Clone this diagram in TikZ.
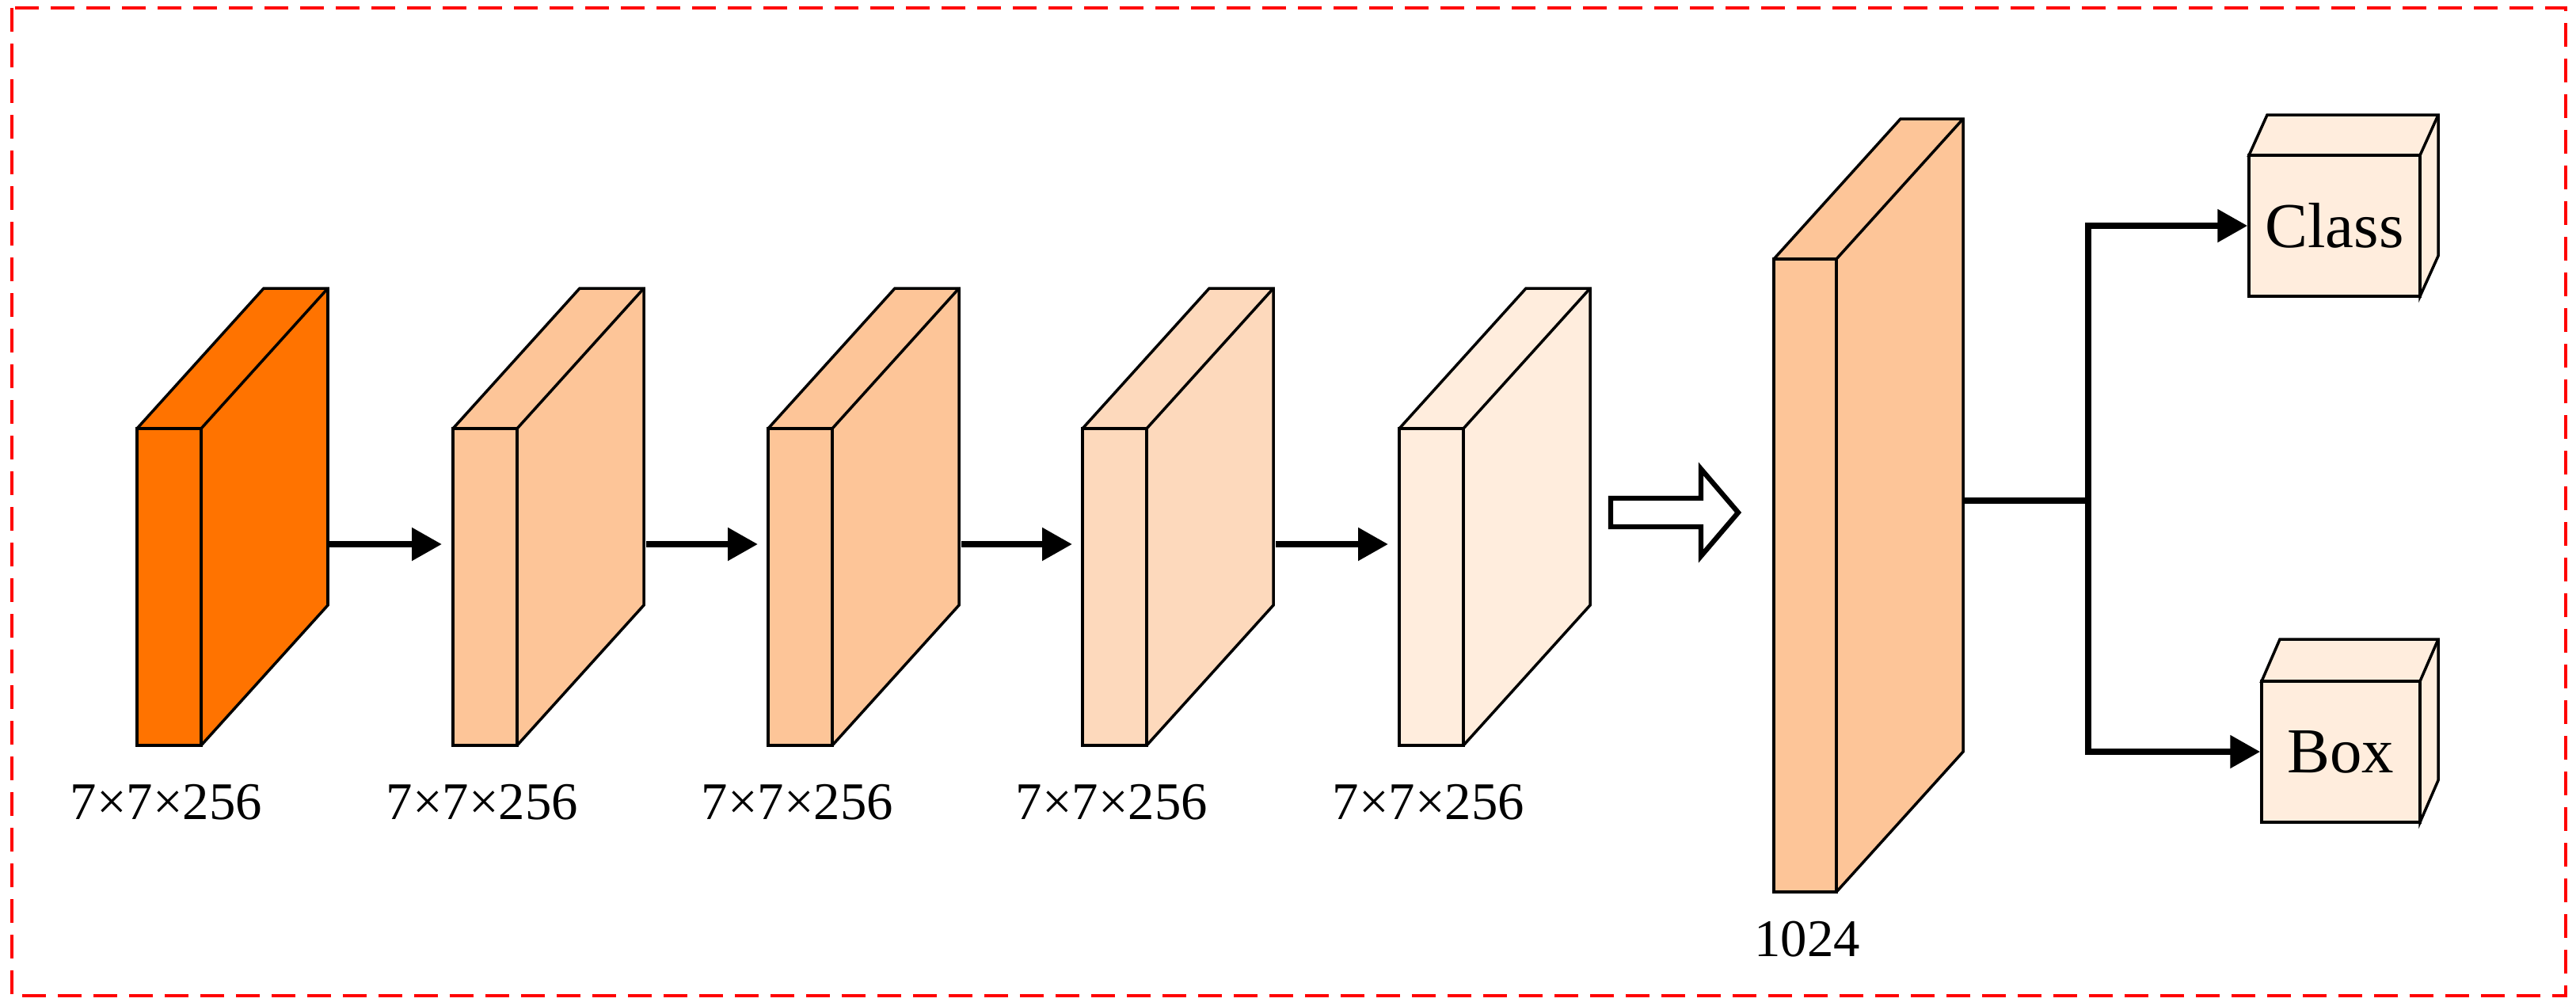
\documentclass[tikz,border=0pt]{standalone}
\usepackage{fontspec}
\setmainfont{Liberation Serif}
\usetikzlibrary{arrows.meta}
\definecolor{c1}{HTML}{FF7300}
\definecolor{c2}{HTML}{FDC598}
\definecolor{c4}{HTML}{FDD9BC}
\definecolor{c5}{HTML}{FFEDDD}
\newcommand\myslab[6]{% name, x, ytop, ybot, color, width
  \filldraw[fill=#5,slabline] (#2,-#3) -- ++(1.60,1.77) -- ++(#6,0) -- (#2+#6+1.60,-#4+1.77) -- (#2+#6,-#4) -- (#2,-#4) -- cycle;
  \draw[slabline] (#2+#6,-#3) -- ++(1.60,1.77);
  \filldraw[fill=#5,slabline] (#2,-#3) rectangle (#2+#6,-#4);
  \coordinate (#1L) at (#2,{-(#3+#4)/2});
}
\tikzset{slabline/.style={line width=1pt,line join=miter},
 conn/.style={line width=2.4pt,-{Triangle[length=0.38cm,width=0.40cm]}},
 lab/.style={font=\fontsize{19}{22}\selectfont},
 big/.style={font=\fontsize{23}{26}\selectfont}}
\begin{document}
\begin{tikzpicture}
\useasboundingbox (0,0) rectangle (32.53,-12.69);
\draw[red,line width=1.2pt,dash pattern=on 0.3cm off 0.15cm] (0.15,-0.10) rectangle (32.40,-12.57);
\myslab{s1}{1.73}{5.41}{9.41}{c1}{0.81}
\myslab{s2}{5.72}{5.41}{9.41}{c2}{0.81}
\myslab{s3}{9.70}{5.41}{9.41}{c2}{0.81}
\myslab{s4}{13.67}{5.41}{9.41}{c4}{0.81}
\myslab{s5}{17.67}{5.41}{9.41}{c5}{0.81}
\foreach \x/\n in {1.73/1,5.72/2,9.70/3,13.67/4,17.67/5}
  \node[lab] (t\n) at (\x+0.37,-10.13) {7×7×256};
\foreach \a/\b/\xa/\xb in {1/2/4.16/5.58,2/3/8.16/9.57,3/4/12.14/13.54,4/5/16.11/17.53}{
  \coordinate (a\a) at (\xa,-6.87); \coordinate (b\b) at (\xb,-6.87);
  \draw[conn] (a\a) -- (b\b);}
% hollow arrow
\draw[line width=1.8pt,fill=white,line join=miter] (20.34,-6.29) -- (21.48,-6.29) -- (21.48,-5.92) -- (21.95,-6.47) -- (21.48,-7.02) -- (21.48,-6.65) -- (20.34,-6.65) -- cycle;
% big slab
\myslab{bg}{22.40}{3.27}{11.26}{c2}{0.79}
\node[lab] (t6) at (22.82,-11.86) {1024};
\coordinate (bigR) at (24.80,-6.32);
\coordinate (jn) at (26.37,-6.32);
% output boxes
\filldraw[fill=c5,slabline] (28.40,-1.96) -- (28.63,-1.45) -- (30.79,-1.45) -- (30.79,-3.23) -- (30.56,-3.74) -- (30.56,-1.96) -- cycle;
\draw[slabline] (30.56,-1.96) -- (30.79,-1.45);
\node[draw,fill=c5,slabline,minimum width=2.16cm,minimum height=1.78cm,inner sep=0,big] (cls) at (29.48,-2.85) {Class};
\filldraw[fill=c5,slabline] (28.56,-8.60) -- (28.79,-8.07) -- (30.79,-8.07) -- (30.79,-9.85) -- (30.56,-10.38) -- (30.56,-8.60) -- cycle;
\draw[slabline] (30.56,-8.60) -- (30.79,-8.07);
\node[draw,fill=c5,slabline,minimum width=2.00cm,minimum height=1.78cm,inner sep=0,big] (box) at (29.56,-9.49) {Box};
\draw[line width=2.4pt] (bigR) -- (jn);
\draw[conn] (jn) |- (cls.west);
\draw[conn] (jn) |- (box.west);
\end{tikzpicture}
\end{document}
